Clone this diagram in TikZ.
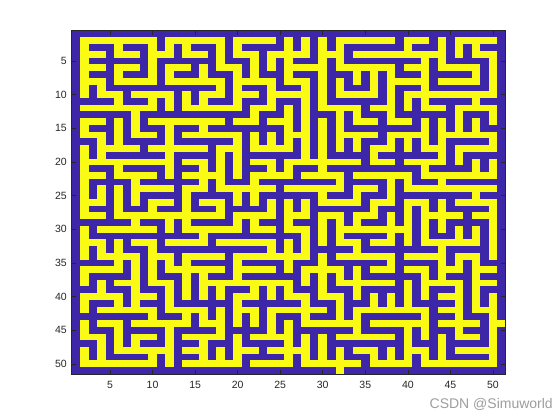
\documentclass[tikz,border=0pt]{standalone}
\usepackage{fontspec}
\setmainfont{Liberation Sans}
\definecolor{mzblue}{rgb}{0.2422,0.1504,0.6603}
\definecolor{mzyellow}{rgb}{0.9769,0.9839,0.0805}
\definecolor{axgray}{rgb}{0.15,0.15,0.15}
\definecolor{wmgray}{rgb}{0.62,0.62,0.62}
\newcount\mzr \newcount\mzc \newcount\mznr \newcount\mznc
\newcount\mzseed \newcount\mztmp \newcount\mzvis \newcount\mziter \newcount\mzdir
\def\mzS#1#2{\edef\mzxa{\the\numexpr2*#2-1\relax}\edef\mzya{\the\numexpr2*#1-1\relax}%
  \edef\mzxb{\the\numexpr2*#2\relax}\edef\mzyb{\the\numexpr2*#1+2\relax}%
  \fill[mzyellow] (\mzxa,\mzya) rectangle (\mzxb,\mzyb);}
\def\mzE#1#2{\edef\mzxa{\the\numexpr2*#2-1\relax}\edef\mzya{\the\numexpr2*#1-1\relax}%
  \edef\mzxb{\the\numexpr2*#2+2\relax}\edef\mzyb{\the\numexpr2*#1\relax}%
  \fill[mzyellow] (\mzxa,\mzya) rectangle (\mzxb,\mzyb);}
\def\mzpassage{%
  \ifcase\mzdir \mzS{\mznr}{\mznc}%
  \or \mzS{\mzr}{\mzc}%
  \or \mzE{\mznr}{\mznc}%
  \else \mzE{\mzr}{\mzc}%
  \fi}
\tikzset{
  axline/.style={draw=axgray, line width=0.6pt},
  ticklab/.style={text=axgray, font=\fontsize{10.5}{12}\selectfont, inner sep=0pt},
  wmark/.style={text=wmgray, font=\fontsize{14}{16}\selectfont, inner sep=0pt}
}
\begin{document}
\begin{tikzpicture}[x=1pt,y=-1pt]
\useasboundingbox (0,0) rectangle (560,420);
\fill[white] (0,0) rectangle (560,420);
\begin{scope}[shift={(71.7pt,-30.7pt)}, x=8.51pt, y=-6.73pt]
  \fill[mzblue] (0,0) rectangle (51,51);
  \mzseed=20231 \mzr=1 \mzc=1 \mzvis=1 \mziter=0
  \expandafter\def\csname mzv@1@1\endcsname{}%
  \loop
    \advance\mziter by 1
    \multiply\mzseed by 75
    \mztmp=\mzseed \divide\mztmp by 65537 \multiply\mztmp by 65537
    \advance\mzseed by -\mztmp
    \mzdir=\mzseed \divide\mzdir by 16
    \mztmp=\mzdir \divide\mztmp by 4 \multiply\mztmp by 4
    \advance\mzdir by -\mztmp
    \mznr=\mzr \mznc=\mzc
    \ifcase\mzdir \advance\mznr by -1 \or \advance\mznr by 1 \or \advance\mznc by -1 \else \advance\mznc by 1 \fi
    \ifnum\mznr<1 \mznr=\mzr \fi
    \ifnum\mznr>25 \mznr=\mzr \fi
    \ifnum\mznc<1 \mznc=\mzc \fi
    \ifnum\mznc>25 \mznc=\mzc \fi
    \ifcsname mzv@\the\mznr @\the\mznc\endcsname\else
      \expandafter\def\csname mzv@\the\mznr @\the\mznc\endcsname{}%
      \advance\mzvis by 1
      \mzpassage
    \fi
    \mzr=\mznr \mzc=\mznc
    \ifnum\mziter>600000 \mzvis=625 \fi
  \ifnum\mzvis<625 \repeat
  % exits
  \fill[mzyellow] (49,43) rectangle (51,44);
  \fill[mzyellow] (31,49) rectangle (32,51);
\end{scope}
% axes box
\draw[axline] (71.7,30.7) rectangle (505.7,373.9);
\foreach \k in {5,10,...,50}{
  \pgfmathsetmacro{\xk}{71.7+(\k-0.5)*8.51}
  \pgfmathsetmacro{\yk}{30.7+(\k-0.5)*6.73}
  \draw[axline] (\xk,373.9) -- (\xk,369.6);
  \draw[axline] (\xk,30.7) -- (\xk,35.0);
  \draw[axline] (71.7,\yk) -- (76.0,\yk);
  \draw[axline] (505.7,\yk) -- (501.4,\yk);
  \node[ticklab, anchor=north] (xl\k) at (\xk,381) {\k};
  \node[ticklab, anchor=east] (yl\k) at (67,\yk) {\k};
}
\node[wmark, anchor=east] (wm) at (553,404) {CSDN @Simuworld};
\end{tikzpicture}
\end{document}
